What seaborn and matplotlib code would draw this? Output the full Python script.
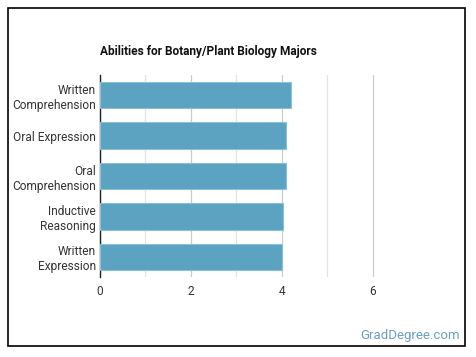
import numpy as np
import pandas as pd
import seaborn as sns
import matplotlib.pyplot as plt
from matplotlib.patches import Rectangle

# data
abilities = ["Written\nComprehension", "Oral Expression", "Oral\nComprehension",
             "Inductive\nReasoning", "Written\nExpression"]
scores = [4.2, 4.1, 4.1, 4.03, 4.0]

df = pd.DataFrame({"ability": abilities, "score": scores})

sns.set_style("white")
plt.rcParams['font.family'] = ['Roboto', 'DejaVu Sans']

fig = plt.figure(figsize=(4.76, 3.57), dpi=100)
ax = fig.add_axes([0.21, 0.224, 0.669, 0.566])

sns.barplot(data=df, x="score", y="ability", color="#5ba3c1", saturation=1,
            width=0.65, edgecolor="#8cc0d6", linewidth=0.8, ax=ax, zorder=3)

ax.set_xlim(0, 7)
ax.set_ylim(4.5, -0.5)
ax.set_xticks([0, 2, 4, 6])
ax.set_xticks([1, 3, 5], minor=True)
ax.grid(axis="x", which="major", color="#cccccc", linewidth=0.9, zorder=0)
ax.grid(axis="x", which="minor", color="#e4e4e4", linewidth=0.9, zorder=0)
ax.tick_params(axis="both", which="both", length=0, labelsize=8.6, colors="#333333", pad=3)
ax.tick_params(axis="x", pad=6)
ax.set_xlabel("")
ax.set_ylabel("")
for s in ["top", "right", "bottom"]:
    ax.spines[s].set_visible(False)
ax.spines["left"].set_color("#222222")
ax.spines["left"].set_linewidth(1.0)

fig.text(0.21, 0.855, "Abilities for Botany/Plant Biology Majors", fontsize=8.6,
         fontweight="bold", color="#111111", ha="left", va="center")

# outer frame
fig.patches.append(Rectangle((8 / 476, 1 - 346 / 357), 457 / 476, 338 / 357,
                             transform=fig.transFigure, fill=False,
                             edgecolor="black", linewidth=1.2))
fig.text(460 / 476, 1 - 335 / 357, "GradDegree.com", fontsize=9.5,
         color="#6a9fc0", ha="right", va="center")

fig.savefig("out.png", dpi=100)
